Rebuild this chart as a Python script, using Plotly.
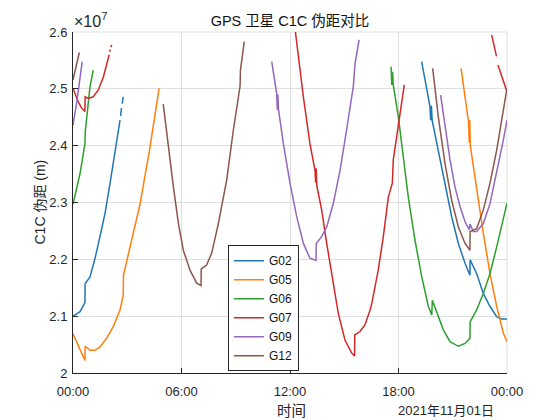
import pandas as pd
import plotly.graph_objects as go

# ---- data (time in hours since 2021-11-01 00:00, pseudorange in 1e7 m) ----
sat_names = ["G02", "G05", "G06", "G07", "G09", "G12"]
sat_colors = ["#1f77b4", "#ff7f0e", "#2ca02c", "#d62728", "#9467bd", "#8c564b"]

G02_t = [0, 0.39, 0.66, 0.67, 0.94, 1.22, 1.49, 1.77, 2.05, 2.32, 2.5, 2.6, None,
         2.63, 2.68, None, 2.72, 2.78, None,
         19.28, 19.74, 19.78, 19.82, 19.86, 20.2, 20.57, 20.94, 21.31, 21.68, 21.95,
         21.96, 22.32, 22.69, 23.06, 23.43, 23.7, 24.0]
G02_v = [2.100, 2.108, 2.124, 2.157, 2.169, 2.202, 2.240, 2.281, 2.334, 2.392, 2.428, 2.445, None,
         2.452, 2.466, None, 2.474, 2.486, None,
         2.548, 2.469, 2.445, 2.470, 2.445, 2.392, 2.334, 2.275, 2.228, 2.193, 2.172,
         2.199, 2.175, 2.140, 2.117, 2.099, 2.095, 2.095]

G05_t = [0, 0.66, 0.67, 0.94, 1.22, 1.49, 1.86, 2.23, 2.6, 2.78, 2.79, 3.15, 3.7, 4.26, 4.76, None,
         21.46, 21.77, 21.88, 21.91, 21.94, 21.97, 22.32, 22.69, 23.06, 23.43, 23.8, 24.0]
G05_v = [2.069, 2.022, 2.047, 2.040, 2.040, 2.046, 2.061, 2.082, 2.111, 2.137, 2.172, 2.219, 2.296, 2.398, 2.501, None,
         2.536, 2.463, 2.440, 2.405, 2.445, 2.400, 2.322, 2.246, 2.175, 2.117, 2.070, 2.055]

G06_t = [0, 0.39, 0.66, 0.68, 0.94, 1.12, None,
         17.59, 17.63, 17.67, 17.71, 17.99, 18.27, 18.54, 18.91, 19.28, 19.65, 19.84, 19.87,
         20.11, 20.48, 20.85, 21.31, 21.68, 21.95, 21.96, 22.32, 22.69, 23.06, 23.43, 23.8, 24.0]
G06_v = [2.297, 2.351, 2.404, 2.425, 2.504, 2.533, None,
         2.539, 2.507, 2.530, 2.507, 2.451, 2.381, 2.310, 2.234, 2.170, 2.117, 2.102, 2.128,
         2.108, 2.076, 2.055, 2.047, 2.052, 2.061, 2.090, 2.111, 2.140, 2.175, 2.222, 2.269, 2.299]

G07_t = [0, 0.29, 0.48, 0.66, 0.67, 0.85, 1.12, 1.4, 1.68, 1.9, 2.0, None,
         2.03, 2.06, None, 2.1, 2.14, None,
         12.3, 12.74, 13.1, 13.38, 13.42, 13.45, 13.48, 13.75, 14.03, 14.3, 14.67, 15.04, 15.41,
         15.57, 15.58, 15.87, 16.15, 16.42, 16.52, 16.88, 17.16, 17.44, 17.66, 17.71, 17.99, 18.32, None,
         23.15, 23.42, None, 23.5, 24.0]
G07_v = [2.501, 2.477, 2.466, 2.460, 2.486, 2.483, 2.486, 2.498, 2.521, 2.545, 2.560, None,
         2.565, 2.569, None, 2.573, 2.577, None,
         2.600, 2.486, 2.404, 2.357, 2.335, 2.360, 2.330, 2.287, 2.228, 2.175, 2.105, 2.058, 2.035,
         2.030, 2.067, 2.073, 2.085, 2.110, 2.122, 2.181, 2.240, 2.310, 2.334, 2.375, 2.439, 2.507, None,
         2.595, 2.557, None, 2.542, 2.495]

G09_t = [0, 0.2, 0.51, None,
         10.99, 11.26, 11.3, 11.33, 11.36, 11.63, 12.0, 12.37, 12.74, 13.1, 13.44, 13.45, 13.75,
         14.03, 14.4, 14.77, 15.13, 15.5, 15.6, 15.82, None,
         20.33, 20.57, 20.85, 21.12, 21.4, 21.68, 21.92, 21.95, 22.14, 22.32, 22.69, 23.06, 23.43, 23.8, 24.0]
G09_v = [2.436, 2.475, 2.548, None,
         2.548, 2.492, 2.463, 2.490, 2.465, 2.404, 2.334, 2.275, 2.228, 2.202, 2.198, 2.228, 2.240,
         2.257, 2.299, 2.357, 2.428, 2.504, 2.545, 2.586, None,
         2.489, 2.433, 2.375, 2.328, 2.293, 2.266, 2.252, 2.262, 2.249, 2.249, 2.263, 2.298, 2.351, 2.410, 2.445]

G12_t = [0, 0.35, None,
         4.99, 5.27, 5.55, 5.83, 6.1, 6.47, 6.84, 7.08, 7.09, 7.39, 7.67, 8.04, 8.5, 8.87, 9.18,
         9.24, 9.26, 9.47, None,
         19.89, 20.2, 20.57, 20.94, 21.31, 21.68, 21.95, 21.96, 22.32, 22.69, 23.06, 23.43, 23.8, 24.0]
G12_v = [2.516, 2.564, None,
         2.473, 2.398, 2.328, 2.263, 2.216, 2.181, 2.158, 2.154, 2.183, 2.190, 2.211, 2.263, 2.340, 2.428, 2.498,
         2.505, 2.533, 2.583, None,
         2.536, 2.451, 2.369, 2.304, 2.257, 2.228, 2.216, 2.249, 2.254, 2.287, 2.334, 2.392, 2.463, 2.501]

y_ticks = [2.0, 2.1, 2.2, 2.3, 2.4, 2.5, 2.6]
y_ticktext = ["2", "2.1", "2.2", "2.3", "2.4", "2.5", "2.6"]

series_t = [G02_t, G05_t, G06_t, G07_t, G09_t, G12_t]
series_v = [G02_v, G05_v, G06_v, G07_v, G09_v, G12_v]

base = pd.Timestamp("2021-11-01 00:00:00")


def to_dt(hours):
    out = []
    for h in hours:
        if h is None:
            out.append(None)
        else:
            out.append((base + pd.Timedelta(hours=h)).strftime("%Y-%m-%d %H:%M:%S"))
    return out


FONT = "Liberation Sans, Arial, Noto Sans CJK SC, sans-serif"
TXT = "#262626"
GRID = "#dfdfdf"

fig = go.Figure()
for name, col, t, v in zip(sat_names, sat_colors, series_t, series_v):
    fig.add_trace(go.Scatter(x=to_dt(t), y=v, mode="lines", name=name,
                             line=dict(color=col, width=1.5), connectgaps=False))

fig.update_layout(
    width=560, height=420,
    margin=dict(l=73, r=53, t=32, b=47),
    paper_bgcolor="white", plot_bgcolor="white",
    font=dict(family=FONT, size=13, color=TXT),
    title=dict(text="GPS 卫星 C1C 伪距对比", x=0.5, xref="paper", xanchor="center",
               y=1 - 20.7 / 420, yanchor="middle", font=dict(size=14.5, color="#111111")),
    showlegend=True,
    legend=dict(x=0.357, y=0.005, xanchor="left", yanchor="bottom",
                bgcolor="white", bordercolor=TXT, borderwidth=1,
                font=dict(size=12, color="#111111"), tracegroupgap=0),
    xaxis=dict(type="date", range=["2021-11-01 00:00:00", "2021-11-02 00:00:00"],
               tick0="2021-11-01 00:00:00", dtick=6 * 3600 * 1000, tickformat="%H:%M",
               showgrid=True, gridcolor=GRID, gridwidth=1,
               ticks="inside", ticklen=5, tickwidth=1, tickcolor=TXT,
               showline=True, linecolor=TXT, linewidth=1, zeroline=False,
               ticklabelstandoff=6, tickfont=dict(size=13, color=TXT)),
    yaxis=dict(range=[2.0, 2.6], tickvals=y_ticks, ticktext=y_ticktext,
               showgrid=True, gridcolor=GRID, gridwidth=1,
               ticks="inside", ticklen=5, tickwidth=1, tickcolor=TXT,
               showline=True, linecolor=TXT, linewidth=1, zeroline=False,
               ticklabelstandoff=2, tickfont=dict(size=13, color=TXT)),
)

# light box on top/right (MATLAB style)
fig.add_shape(type="line", xref="paper", yref="paper", x0=0, x1=1, y0=1, y1=1,
              line=dict(color=GRID, width=1), layer="below")
fig.add_shape(type="line", xref="paper", yref="paper", x0=1, x1=1, y0=0, y1=1,
              line=dict(color=GRID, width=1), layer="below")

fig.add_annotation(text="×10<sup>7</sup>", xref="paper", yref="paper", x=-0.002, y=1.0,
                   xanchor="left", yanchor="bottom", showarrow=False,
                   font=dict(size=16, color=TXT))
fig.add_annotation(text="C1C 伪距 (m)", xref="paper", yref="paper", x=(39 - 73) / 434, y=0.5,
                   xanchor="center", yanchor="middle", textangle=-90, showarrow=False,
                   font=dict(size=14, color=TXT))
fig.add_annotation(text="时间", xref="paper", yref="paper", x=(291 - 73) / 434, y=-(411 - 373) / 341,
                   xanchor="center", yanchor="middle", showarrow=False,
                   font=dict(size=14.5, color=TXT))
fig.add_annotation(text="2021年11月01日", xref="paper", yref="paper", x=(446 - 73) / 434,
                   y=-(411 - 373) / 341, xanchor="center", yanchor="middle", showarrow=False,
                   font=dict(size=13, color=TXT))

fig.write_html("out.html")
